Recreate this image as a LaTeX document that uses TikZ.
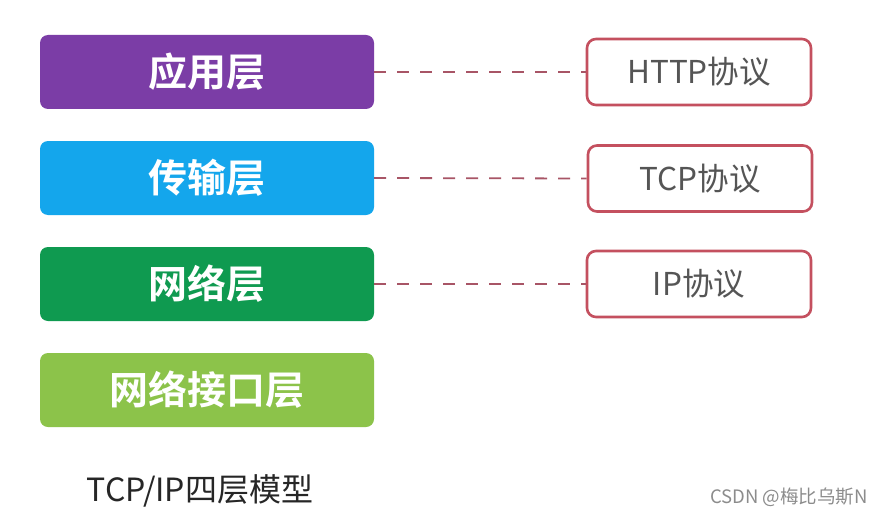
\documentclass[tikz,border=0pt]{standalone}
\usepackage{fontspec}
\setmainfont{Noto Sans CJK SC}
\newfontfamily\cjk{Noto Sans CJK SC}
\newfontfamily\cjkb{Noto Sans CJK SC Bold}
\definecolor{cpurple}{HTML}{7B3DA6}
\definecolor{cblue}{HTML}{14A6EC}
\definecolor{cgreen}{HTML}{0F9A50}
\definecolor{clgreen}{HTML}{8CC34A}
\definecolor{cred}{HTML}{C4505F}
\definecolor{cdash}{HTML}{A85566}
\definecolor{ctext}{HTML}{555555}
\tikzset{
  layer/.style={rounded corners=8pt, minimum width=334pt, minimum height=74pt, inner sep=0pt, text=white, font=\cjkb\fontsize{39}{39}\selectfont},
  proto/.style={rounded corners=9pt, draw=cred, line width=2.6pt, fill=white, minimum width=224pt, minimum height=66pt, inner sep=0pt, text=ctext, font=\cjk\fontsize{31.5}{31.5}\selectfont},
  link/.style={draw=cdash, line width=1.8pt, dash pattern=on 12pt off 11pt}
}
\begin{document}
\begin{tikzpicture}[x=1pt,y=-1pt]
\useasboundingbox (0,0) rectangle (885,516);
\fill[white] (0,0) rectangle (885,516);
\node[layer, fill=cpurple] (app) at (207,72) {应用层};
\node[layer, fill=cblue] (tra) at (207,178) {传输层};
\node[layer, fill=cgreen] (net) at (207,284) {网络层};
\node[layer, fill=clgreen] (nif) at (207,390) {网络接口层};
\node[proto] (http) at (699,72) {HTTP协议};
\node[proto] (tcp) at (700,178.5) {TCP协议};
\node[proto] (ip) at (699,284) {IP协议};
\draw[link] (app.east) -- (http.west);
\draw[link] (tra.east) -- (tcp.west);
\draw[link] (net.east) -- (ip.west);
\node[font=\cjk\fontsize{32}{32}\selectfont, text=black!85] (title) at (200,491) {TCP/IP四层模型};
\node[font=\cjk\fontsize{18.5}{18.5}\selectfont, text=black!45, anchor=east] (wm) at (871,497) {CSDN @梅比乌斯N};
\end{tikzpicture}
\end{document}
